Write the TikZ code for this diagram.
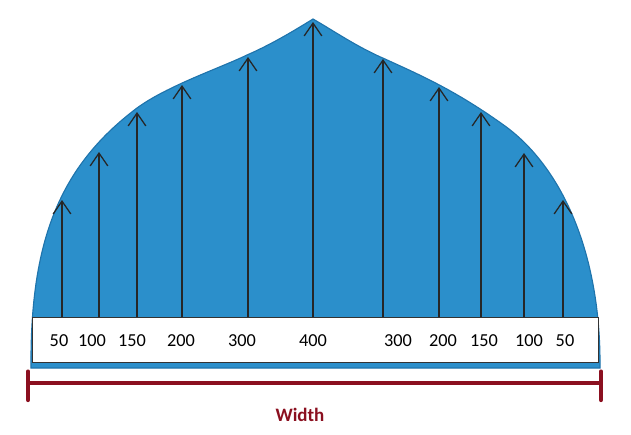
\documentclass[tikz,border=0pt]{standalone}
\usepackage{fontspec}
\setmainfont{Carlito}
\usepackage{xcolor}
\usetikzlibrary{arrows.meta}
\definecolor{domeblue}{HTML}{2B8FCB}
\definecolor{domeedge}{HTML}{1F74AC}
\definecolor{widthred}{HTML}{8B1020}

\begin{document}
\begin{tikzpicture}[x=0.025cm, y=-0.025cm,
  font=\fontsize{13}{15}\selectfont,
  flow/.style={-{Straight Barb[length=3.2mm, width=4.4mm]}, line width=0.9pt, black!85},
  val/.style={inner sep=0pt, anchor=center},
  bar/.style={line width=3.4pt, widthred}]
\useasboundingbox (0,0) rectangle (631,434);
% --- dome profile ---
\fill[domeblue, draw=domeedge, line width=0.8pt]
  (31,368) .. controls (30,240) and (60,166) .. (137,108)
  .. controls (167,86) and (220,68) .. (247,55)
  .. controls (270,45) and (292,32) .. (313,19)
  .. controls (334,31) and (357,47) .. (385,59)
  .. controls (420,75) and (455,90) .. (505,126)
  .. controls (560,166) and (601,250) .. (600,368)
  -- cycle;
% --- velocity arrows ---
\foreach \x/\t in {62/200, 99/152, 137/112, 182/85, 248/57, 313/22,
                   383/59, 439/87, 481/112, 524/153, 563/200}
  \draw[flow] (\x,317) -- (\x,\t);
% --- value strip ---
\node[draw=black!80, fill=white, line width=0.8pt, minimum width=566*0.025cm,
      minimum height=45*0.025cm, inner sep=0pt, anchor=north west] (strip) at (32,317) {};
\foreach \x/\v [count=\i] in {59/50, 92/100, 132/150, 181/200, 242/300, 313/400,
                              398/300, 443/200, 484/150, 529/100, 565/50}
  \node[val] (v\i) at (\x,341) {\v};
% --- width bar ---
\coordinate (wl) at (28,383);
\coordinate (wr) at (601,383);
\draw[bar] (wl) -- (wr);
\draw[bar, line cap=round] ([yshift=0.28cm]wl) -- ([yshift=-0.42cm]wl);
\draw[bar, line cap=round] ([yshift=0.28cm]wr) -- ([yshift=-0.42cm]wr);
\node[text=widthred, font=\fontsize{13.5}{15}\selectfont\bfseries] (width) at (300,415) {Width};
\end{tikzpicture}
\end{document}
